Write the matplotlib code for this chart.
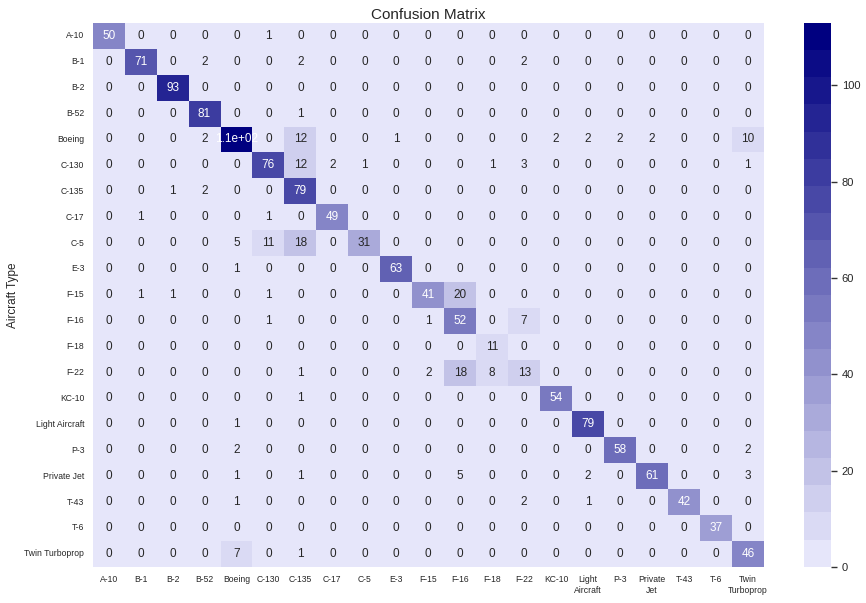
import numpy as np
import matplotlib
matplotlib.use("Agg")
import matplotlib.pyplot as plt
import seaborn as sns

labels = ["A-10", "B-1", "B-2", "B-52", "Boeing", "C-130", "C-135", "C-17", "C-5",
          "E-3", "F-15", "F-16", "F-18", "F-22", "KC-10", "Light Aircraft", "P-3",
          "Private Jet", "T-43", "T-6", "Twin Turboprop"]
xlabels = ["A-10", "B-1", "B-2", "B-52", "Boeing", "C-130", "C-135", "C-17", "C-5",
           "E-3", "F-15", "F-16", "F-18", "F-22", "KC-10", "Light\nAircraft", "P-3",
           "Private\nJet", "T-43", "T-6", "Twin\nTurboprop"]

# rows = true class, columns = predicted class
cm = [
    [50, 0, 0, 0, 0, 1, 0, 0, 0, 0, 0, 0, 0, 0, 0, 0, 0, 0, 0, 0, 0],
    [0, 71, 0, 2, 0, 0, 2, 0, 0, 0, 0, 0, 0, 2, 0, 0, 0, 0, 0, 0, 0],
    [0, 0, 93, 0, 0, 0, 0, 0, 0, 0, 0, 0, 0, 0, 0, 0, 0, 0, 0, 0, 0],
    [0, 0, 0, 81, 0, 0, 1, 0, 0, 0, 0, 0, 0, 0, 0, 0, 0, 0, 0, 0, 0],
    [0, 0, 0, 2, 113, 0, 12, 0, 0, 1, 0, 0, 0, 0, 2, 2, 2, 2, 0, 0, 10],
    [0, 0, 0, 0, 0, 76, 12, 2, 1, 0, 0, 0, 1, 3, 0, 0, 0, 0, 0, 0, 1],
    [0, 0, 1, 2, 0, 0, 79, 0, 0, 0, 0, 0, 0, 0, 0, 0, 0, 0, 0, 0, 0],
    [0, 1, 0, 0, 0, 1, 0, 49, 0, 0, 0, 0, 0, 0, 0, 0, 0, 0, 0, 0, 0],
    [0, 0, 0, 0, 5, 11, 18, 0, 31, 0, 0, 0, 0, 0, 0, 0, 0, 0, 0, 0, 0],
    [0, 0, 0, 0, 1, 0, 0, 0, 0, 63, 0, 0, 0, 0, 0, 0, 0, 0, 0, 0, 0],
    [0, 1, 1, 0, 0, 1, 0, 0, 0, 0, 41, 20, 0, 0, 0, 0, 0, 0, 0, 0, 0],
    [0, 0, 0, 0, 0, 1, 0, 0, 0, 0, 1, 52, 0, 7, 0, 0, 0, 0, 0, 0, 0],
    [0, 0, 0, 0, 0, 0, 0, 0, 0, 0, 0, 0, 11, 0, 0, 0, 0, 0, 0, 0, 0],
    [0, 0, 0, 0, 0, 0, 1, 0, 0, 0, 2, 18, 8, 13, 0, 0, 0, 0, 0, 0, 0],
    [0, 0, 0, 0, 0, 0, 1, 0, 0, 0, 0, 0, 0, 0, 54, 0, 0, 0, 0, 0, 0],
    [0, 0, 0, 0, 1, 0, 0, 0, 0, 0, 0, 0, 0, 0, 0, 79, 0, 0, 0, 0, 0],
    [0, 0, 0, 0, 2, 0, 0, 0, 0, 0, 0, 0, 0, 0, 0, 0, 58, 0, 0, 0, 2],
    [0, 0, 0, 0, 1, 0, 1, 0, 0, 0, 0, 5, 0, 0, 0, 2, 0, 61, 0, 0, 3],
    [0, 0, 0, 0, 1, 0, 0, 0, 0, 0, 0, 0, 0, 2, 0, 1, 0, 0, 42, 0, 0],
    [0, 0, 0, 0, 0, 0, 0, 0, 0, 0, 0, 0, 0, 0, 0, 0, 0, 0, 0, 37, 0],
    [0, 0, 0, 0, 7, 0, 1, 0, 0, 0, 0, 0, 0, 0, 0, 0, 0, 0, 0, 0, 46],
]
cm = np.array(cm)

sns.set_theme(style="white")
plt.rcParams['font.family'] = ['Liberation Sans', 'DejaVu Sans']

# 20-step lavender -> navy palette
cmap = matplotlib.colors.ListedColormap(
    sns.blend_palette(["lavender", "navy"], n_colors=20))

fig = plt.figure(figsize=(8.66, 6.03), dpi=100)
ax = fig.add_axes([0.107, 0.06, 0.775, 0.902])
cax = fig.add_axes([0.928, 0.06, 0.032, 0.902])

sns.heatmap(cm, annot=True, cmap=cmap, ax=ax, cbar_ax=cax,
            xticklabels=xlabels, yticklabels=labels,
            annot_kws={"size": 8.5})

ax.set_title("Confusion Matrix", fontsize=11, pad=3)
ax.set_ylabel("Aircraft Type", fontsize=8.5)
ax.tick_params(axis='both', labelsize=6.2, length=0, pad=6)
plt.setp(ax.get_yticklabels(), rotation=0)
plt.setp(ax.get_xticklabels(), rotation=0)
cax.tick_params(labelsize=8, length=4, width=1, left=False, right=True, color='#333333')
cax.yaxis.set_major_locator(matplotlib.ticker.MultipleLocator(20))

fig.savefig("out.png", dpi=100)
